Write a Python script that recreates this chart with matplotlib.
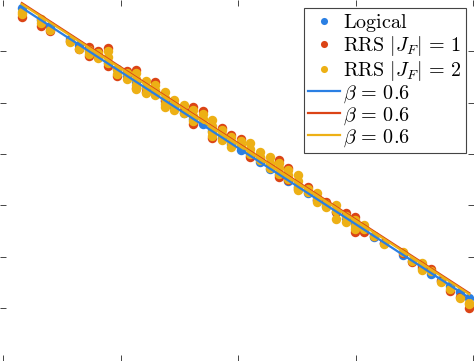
import matplotlib
matplotlib.use('Agg')
import matplotlib.pyplot as plt

plt.rcParams['mathtext.fontset'] = 'cm'

# x position of each column of points
col_x = [4.0, 8.1, 10.1, 14.2, 16.2, 18.2, 20.2, 22.3, 24.3, 26.3,
         28.3, 30.4, 32.4, 34.4, 36.4, 38.5, 40.5, 42.5, 44.5, 46.6,
         48.6, 50.6, 52.6, 54.7, 56.7, 58.7, 60.7, 62.8, 64.8, 66.8,
         68.8, 70.9, 72.9, 74.9, 76.9, 79.0, 81.0, 85.0, 87.1, 89.1,
         91.1, 93.1, 95.2, 97.2, 99.2]

# Logical: one value per column
logical_y = [-0.16, -0.39, -0.51, -0.75, -0.88, -0.99, -1.11, -1.23, -1.35, -1.48,
             -1.60, -1.71, -1.83, -1.96, -2.08, -2.20, -2.32, -2.41, -2.55, -2.69,
             -2.80, -2.92, -3.04, -3.15, -3.29, -3.41, -3.52, -3.64, -3.76, -3.89,
             -4.01, -4.13, -4.25, -4.36, -4.50, -4.62, -4.73, -4.97, -5.08, -5.22,
             -5.34, -5.45, -5.57, -5.69, -5.80]

# RRS |J_F| = 1: values per column
rrs1_y = [[-0.33], [-0.51], [-0.60], [-0.80], [-0.95], [-0.92, -1.09], [-0.99],
          [-0.93, -1.29], [-1.48], [-1.38], [-1.36, -1.71], [-1.79], [-1.60],
          [-1.95], [-2.04], [-2.14], [-2.08, -2.41], [-2.16], [-2.69], [-2.49],
          [-2.63], [-2.71], [-3.06], [-3.08], [-3.21], [-3.12, -3.45],
          [-3.27, -3.51], [-3.68], [-3.64], [-3.89], [-3.93], [-4.13], [-4.15],
          [-4.23, -4.52], [-4.52], [-4.60], [-4.73], [-4.93], [-5.10], [-5.18],
          [-5.24], [-5.47], [-5.67], [-5.78], [-6.00]]

# RRS |J_F| = 2: values per column
rrs2_y = [[-0.23, -0.27], [-0.37, -0.45], [-0.58], [-0.80, -0.82], [-0.95],
          [-0.97, -1.05], [-1.03, -1.13], [-0.99, -1.11, -1.23], [-1.34, -1.44],
          [-1.42, -1.54], [-1.42, -1.54, -1.66, -1.73], [-1.58, -1.69, -1.81],
          [-1.66, -1.75, -1.85], [-1.79, -1.91, -2.03, -2.08], [-1.95, -2.04, -2.14],
          [-2.04, -2.20], [-2.14, -2.26, -2.36], [-2.22, -2.32],
          [-2.34, -2.45, -2.57, -2.65], [-2.53, -2.63, -2.73], [-2.67, -2.77, -2.86],
          [-2.75, -2.82], [-2.78, -2.90, -3.00], [-2.96, -3.06, -3.12],
          [-3.06, -3.17, -3.27], [-3.17, -3.27, -3.39], [-3.31, -3.41, -3.49],
          [-3.41, -3.52, -3.64, -3.70], [-3.68, -3.74], [-3.76, -3.86, -3.93],
          [-3.97, -4.03], [-3.99, -4.11, -4.26], [-4.21, -4.32],
          [-4.28, -4.40, -4.46], [-4.38, -4.46], [-4.60], [-4.75], [-4.91],
          [-5.08], [-5.12, -5.26], [-5.28], [-5.49], [-5.63], [-5.80],
          [-5.90, -5.92]]

# fitted lines (beta = 0.6), end points
fit_x = [4.0, 99.2]
fit_logical = [-0.15, -5.80]
fit_rrs1 = [-0.06, -5.71]
fit_rrs2 = [-0.08, -5.73]

blue = '#2A7FE3'
red = '#DB4416'
yellow = '#EDB015'


def expand(xs, groups):
    px, py = [], []
    for x, g in zip(xs, groups):
        for v in g:
            px.append(x)
            py.append(v)
    return px, py


r1x, r1y = expand(col_x, rrs1_y)
r2x, r2y = expand(col_x, rrs2_y)

fig = plt.figure(figsize=(4.74, 3.61), dpi=100)
ax = fig.add_axes([0, 0, 1, 1])

ax.plot(col_x, logical_y, 'o', color=blue, ms=6.8, mec='none', label=r'$\mathrm{Logical}$')
ax.plot(r1x, r1y, 'o', color=red, ms=6.8, mec='none', label=r'$\mathrm{RRS}\ |J_F|\,=\,1$')
ax.plot(r2x, r2y, 'o', color=yellow, ms=6.8, mec='none', label=r'$\mathrm{RRS}\ |J_F|\,=\,2$')
ax.plot(fit_x, fit_logical, '-', color=blue, lw=1.6, label=r'$\beta\,=\,0.6$')
ax.plot(fit_x, fit_rrs1, '-', color=red, lw=1.6, label=r'$\beta\,=\,0.6$')
ax.plot(fit_x, fit_rrs2, '-', color=yellow, lw=1.6, label=r'$\beta\,=\,0.6$')

ax.set_xlim(-0.64, 100.2)
ax.set_ylim(-7.03, 0.0)
ax.set_xticks([0, 25, 50, 75, 100])
ax.set_yticks([-6, -5, -4, -3, -2, -1])
ax.tick_params(direction='in', length=4, width=0.6, color='#262626',
               top=True, right=True, labelbottom=False, labelleft=False)
for s in ax.spines.values():
    s.set_visible(False)

leg = ax.legend(loc='upper right', bbox_to_anchor=(0.983, 0.978), borderaxespad=0,
                fontsize=14.5, markerscale=0.75, handlelength=1.6, handletextpad=0.15,
                labelspacing=0.02, borderpad=0.2, fancybox=False, framealpha=1)
leg.get_frame().set_edgecolor('#444444')
leg.get_frame().set_linewidth(0.8)

plt.savefig('out.png', dpi=100)
